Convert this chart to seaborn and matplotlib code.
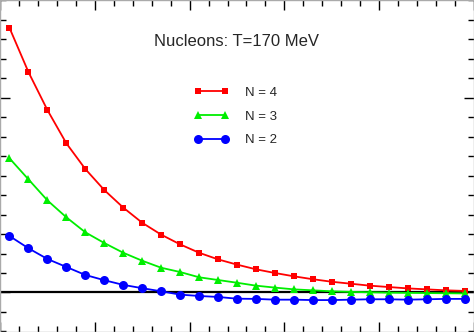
import numpy as np
import pandas as pd
import matplotlib
matplotlib.use("Agg")
import matplotlib.pyplot as plt
from matplotlib.ticker import MultipleLocator, NullFormatter
import seaborn as sns

x_vals = [i + 0.5 for i in range(25)]
n4 = [13.59, 11.32, 9.37, 7.66, 6.34, 5.26, 4.36, 3.58, 2.97, 2.47, 2.04, 1.70,
      1.43, 1.19, 1.00, 0.83, 0.68, 0.55, 0.45, 0.35, 0.28, 0.21, 0.16, 0.11, 0.08]
n3 = [6.89, 5.81, 4.73, 3.86, 3.09, 2.54, 2.04, 1.63, 1.27, 1.05, 0.78, 0.64,
      0.50, 0.35, 0.25, 0.16, 0.11, 0.06, 0.03, 0.01, -0.01, -0.02, -0.03, -0.04, -0.05]
n2 = [2.90, 2.27, 1.72, 1.31, 0.90, 0.63, 0.39, 0.22, 0.06, -0.11, -0.18, -0.23,
      -0.32, -0.33, -0.37, -0.37, -0.39, -0.39, -0.37, -0.35, -0.35, -0.37, -0.35, -0.33, -0.33]
labels = ["N = 4", "N = 3", "N = 2"]
title = "Nucleons: T=170 MeV"

df = pd.DataFrame({
    "x": x_vals * 3,
    "y": n4 + n3 + n2,
    "series": [labels[0]] * 25 + [labels[1]] * 25 + [labels[2]] * 25,
})

sns.set_style("white")
plt.rcParams["font.family"] = ["Liberation Sans", "DejaVu Sans"]

fig = plt.figure(figsize=(4.74, 3.32), dpi=100)
ax = fig.add_axes([0, 0, 1, 1])

palette = {labels[0]: "#ff0000", labels[1]: "#00ee00", labels[2]: "#0000ff"}
markers = {labels[0]: "s", labels[1]: "^", labels[2]: "o"}
sizes = {labels[0]: 5, labels[1]: 6, labels[2]: 6.5}

ax.axhline(0, color="black", lw=1.6, zorder=1)
for lab in labels:
    sub = df[df["series"] == lab]
    sns.lineplot(data=sub, x="x", y="y", ax=ax, color=palette[lab],
                 marker=markers[lab], markersize=sizes[lab], markeredgewidth=0,
                 linewidth=1.3, label=lab, zorder=3)

ax.set_xlim(0, 25)
ax.set_ylim(-2.03, 15.02)
ax.set_xlabel("")
ax.set_ylabel("")
ax.xaxis.set_major_locator(MultipleLocator(5))
ax.xaxis.set_minor_locator(MultipleLocator(1))
ax.yaxis.set_major_locator(MultipleLocator(10))
ax.yaxis.set_minor_locator(MultipleLocator(1))
ax.xaxis.set_major_formatter(NullFormatter())
ax.yaxis.set_major_formatter(NullFormatter())
ax.tick_params(which="both", direction="in", top=True, right=True, bottom=True, left=True,
               color="black")
ax.tick_params(which="major", length=7, width=1)
ax.tick_params(which="minor", length=4, width=1)
for s in ax.spines.values():
    s.set_color("#aaaaaa")
    s.set_linewidth(1)

ax.text(0.5, 1 - 41 / 332, title, transform=ax.transAxes, ha="center", va="center",
        fontsize=12)

leg = ax.legend(loc="center", bbox_to_anchor=(0.497, 1 - 116.5 / 332), frameon=False,
                fontsize=9.5, numpoints=2, handlelength=2.6, handletextpad=1.2,
                labelspacing=0.88)

fig.savefig("out.png", dpi=100)
